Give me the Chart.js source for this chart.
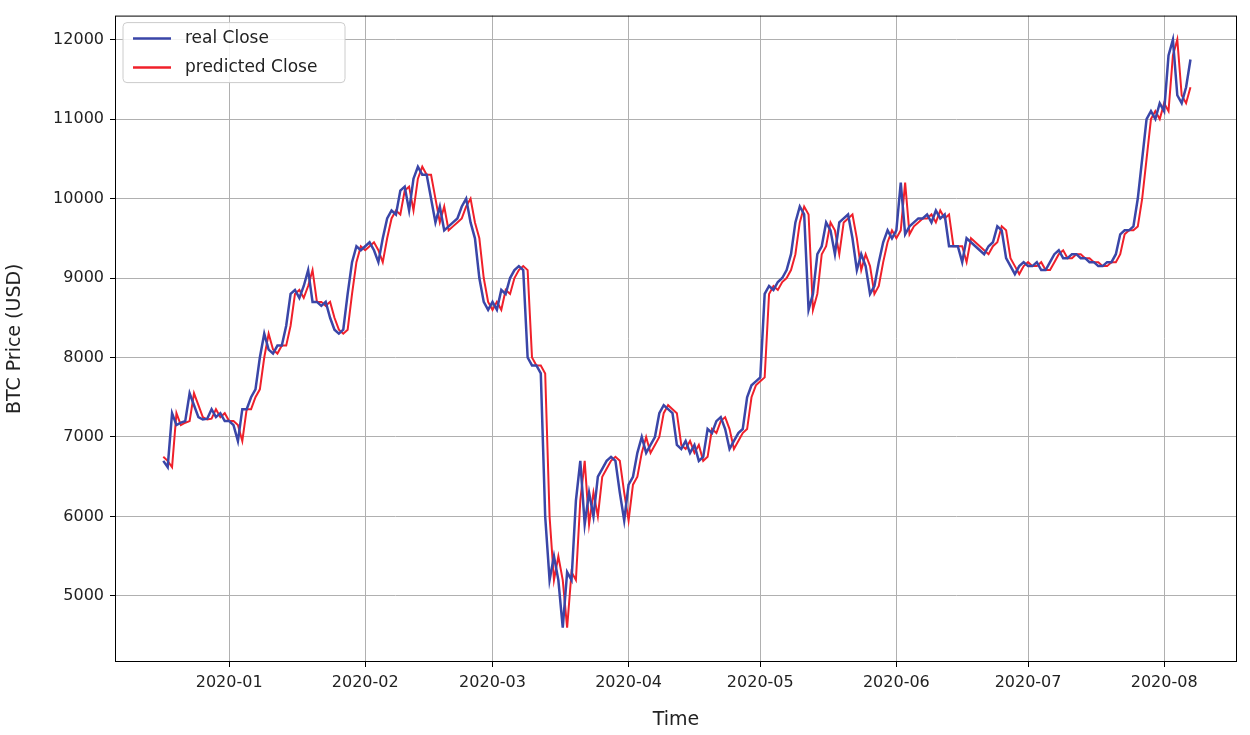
<!DOCTYPE html>
<html><head><meta charset="utf-8">
<script src="https://cdn.jsdelivr.net/npm/chart.js@4"></script>
<style>html,body{margin:0;padding:0;background:#fff}#w{width:1250px;height:735px}</style>
</head><body><div id="w"><canvas id="c"></canvas></div>
<script>
const startDay = -15; // days relative to 2020-01-01
const realClose = [6700,6620,7300,7150,7180,7200,7550,7400,7250,7220,7230,7350,7250,7300,7200,
7200,7150,6950,7350,7350,7500,7600,8000,8300,8100,8050,8150,8150,8400,8800,8850,8750,8900,9100,8700,8700,8650,8700,8500,8350,8300,8350,8800,9200,9400,9350,9400,
9450,9350,9200,9500,9750,9850,9800,10100,10150,9850,10250,10400,10300,10300,10000,9700,9900,9600,9650,9700,9750,9900,10000,9700,9500,9000,8700,8600,8700,
8600,8850,8800,9000,9100,9150,9100,8000,7900,7900,7800,6000,5200,5500,5200,4600,5300,5200,6200,6700,5900,6300,6000,6500,6600,6700,6750,6700,6300,5950,6400,
6500,6800,7000,6800,6900,7000,7300,7400,7350,7300,6900,6850,6950,6800,6900,6700,6750,7100,7050,7200,7250,7100,6850,6950,7050,7100,7500,7650,7700,7750,8800,
8900,8850,8950,9000,9100,9300,9700,9900,9800,8600,8800,9300,9400,9700,9600,9300,9700,9750,9800,9500,9100,9300,9150,8800,8900,9200,9450,9600,9500,9600,
10200,9550,9650,9700,9750,9750,9800,9700,9850,9750,9800,9400,9400,9400,9200,9500,9450,9400,9350,9300,9400,9450,9650,9600,9250,9150,9050,9150,9200,9150,
9150,9200,9100,9100,9200,9300,9350,9250,9250,9300,9300,9250,9250,9200,9200,9150,9150,9200,9200,9300,9550,9600,9600,9650,10000,10500,11000,11100,11000,11200,11100,
11800,12000,11300,11200,11400,11750];
const predictedClose = [6750,6700,6620,7300,7150,7180,7200,7550,7400,7250,7220,7230,7350,7250,7300,
7200,7200,7150,6950,7350,7350,7500,7600,8000,8300,8100,8050,8150,8150,8400,8800,8850,8750,8900,9100,8700,8700,8650,8700,8500,8350,8300,8350,8800,9200,9400,9350,
9400,9450,9350,9200,9500,9750,9850,9800,10100,10150,9850,10250,10400,10300,10300,10000,9700,9900,9600,9650,9700,9750,9900,10000,9700,9500,9000,8700,8600,
8700,8600,8850,8800,9000,9100,9150,9100,8000,7900,7900,7800,6000,5200,5500,5200,4600,5300,5200,6200,6700,5900,6300,6000,6500,6600,6700,6750,6700,6300,5950,
6400,6500,6800,7000,6800,6900,7000,7300,7400,7350,7300,6900,6850,6950,6800,6900,6700,6750,7100,7050,7200,7250,7100,6850,6950,7050,7100,7500,7650,7700,7750,
8800,8900,8850,8950,9000,9100,9300,9700,9900,9800,8600,8800,9300,9400,9700,9600,9300,9700,9750,9800,9500,9100,9300,9150,8800,8900,9200,9450,9600,9500,
9600,10200,9550,9650,9700,9750,9750,9800,9700,9850,9750,9800,9400,9400,9400,9200,9500,9450,9400,9350,9300,9400,9450,9650,9600,9250,9150,9050,9150,9200,
9150,9150,9200,9100,9100,9200,9300,9350,9250,9250,9300,9300,9250,9250,9200,9200,9150,9150,9200,9200,9300,9550,9600,9600,9650,10000,10500,11000,11100,11000,11200,
11100,11800,12000,11300,11200,11400];
const xTickDays = [0,31,60,91,121,152,182,213];
const xTickLabels = ['2020-01','2020-02','2020-03','2020-04','2020-05','2020-06','2020-07','2020-08'];
const yTicks = [5000,6000,7000,8000,9000,10000,11000,12000];

const toPts = (arr, s) => arr.map((v,i)=>({x:s+i,y:v}));
const FONT = 'DejaVu Sans';
const frame = {id:'frame', afterDraw(ch){
  const {ctx, chartArea:a} = ch;
  ctx.save();
  ctx.strokeStyle='#000'; ctx.lineWidth=1;
  ctx.strokeRect(a.left+0.5,a.top+0.5,a.right-a.left-1,a.bottom-a.top-1);
  const lx=a.left+8, ly=a.top+7, w=222, h=60;
  ctx.fillStyle='rgba(255,255,255,0.85)'; ctx.strokeStyle='#ccc';
  ctx.beginPath(); ctx.roundRect(lx,ly,w,h,4); ctx.fill(); ctx.stroke();
  const items=[['real Close','#3a46a8'],['predicted Close','#f0202a']];
  ctx.font='17px '+FONT; ctx.textBaseline='middle';
  items.forEach((it,i)=>{
    const yy=ly+16+i*29;
    ctx.strokeStyle=it[1]; ctx.lineWidth=2.5;
    ctx.beginPath(); ctx.moveTo(lx+10,yy); ctx.lineTo(lx+48,yy); ctx.stroke();
    ctx.fillStyle='#222'; ctx.fillText(it[0],lx+62,yy);
  });
  ctx.restore();
}};
new Chart(document.getElementById('c'),{
  type:'line',
  data:{datasets:[
    {label:'real Close',data:toPts(realClose,startDay),borderColor:'#3a46a8',borderWidth:2.5,pointRadius:0,tension:0},
    {label:'predicted Close',data:toPts(predictedClose,startDay),borderColor:'#f0202a',borderWidth:2,pointRadius:0,tension:0}
  ]},
  options:{
    responsive:true,maintainAspectRatio:false,animation:false,
    layout:{padding:{top:0,right:13,left:0,bottom:0}},
    plugins:{legend:{display:false},tooltip:{enabled:false}},
    scales:{
      x:{type:'linear',min:-26,max:229.6,
        afterBuildTicks(s){s.ticks=xTickDays.map(v=>({value:v}));},
        afterFit(s){s.height=73;},
        ticks:{autoSkip:false,maxRotation:0,color:'#222',font:{family:FONT,size:16},padding:6,
          callback:(v)=>{const i=xTickDays.indexOf(v);return i>=0?xTickLabels[i]:'';}},
        grid:{color:'#b0b0b0',lineWidth:1,drawTicks:true,tickLength:5,tickColor:'#000'},
        border:{display:false},
        title:{display:true,text:'Time',color:'#222',font:{family:FONT,size:19},padding:{top:4}}},
      y:{min:4169,max:12302,
        afterBuildTicks(s){s.ticks=yTicks.map(v=>({value:v}));},
        afterFit(s){s.width=115;},
        ticks:{color:'#222',font:{family:FONT,size:16},padding:6,callback:(v)=>String(v)},
        grid:{color:'#b0b0b0',lineWidth:1,tickLength:5,tickColor:'#000'},
        border:{display:false},
        title:{display:true,text:'BTC Price (USD)',color:'#222',font:{family:FONT,size:19},padding:{bottom:2}}}
    }
  },
  plugins:[frame]
});
</script></body></html>
